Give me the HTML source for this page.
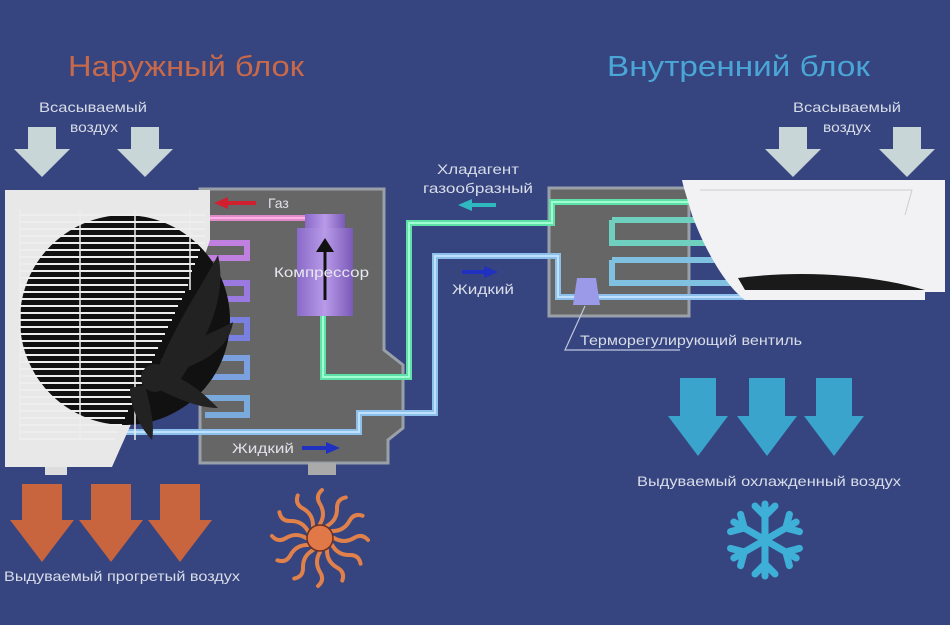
<!DOCTYPE html>
<html><head><meta charset="utf-8"><style>
html,body{margin:0;padding:0;background:#36447f;}
svg{display:block}
text{font-family:"Liberation Sans Narrow","Liberation Sans",sans-serif;}
</style></head><body>
<svg width="950" height="625" viewBox="0 0 950 625" xmlns="http://www.w3.org/2000/svg">
<rect width="950" height="625" fill="#36447f"/>
<text x="68" y="76" font-size="29" fill="#c8694a" textLength="236" lengthAdjust="spacingAndGlyphs">Наружный блок</text>
<text x="607" y="76" font-size="29" fill="#4aa6d6" textLength="263" lengthAdjust="spacingAndGlyphs">Внутренний блок</text>
<g fill="#d8dde8" font-size="14">
<text x="39" y="112" textLength="108" lengthAdjust="spacingAndGlyphs">Всасываемый</text>
<text x="70" y="132" textLength="48" lengthAdjust="spacingAndGlyphs">воздух</text>
<text x="793" y="112" textLength="108" lengthAdjust="spacingAndGlyphs">Всасываемый</text>
<text x="823" y="132" textLength="48" lengthAdjust="spacingAndGlyphs">воздух</text>
<text x="437" y="174" textLength="82" lengthAdjust="spacingAndGlyphs">Хладагент</text>
<text x="423" y="193" textLength="110" lengthAdjust="spacingAndGlyphs">газообразный</text>
<text x="452" y="294" textLength="62" lengthAdjust="spacingAndGlyphs">Жидкий</text>
<text x="580" y="345" textLength="222" lengthAdjust="spacingAndGlyphs">Терморегулирующий вентиль</text>
<text x="637" y="486" textLength="264" lengthAdjust="spacingAndGlyphs">Выдуваемый охлажденный воздух</text>
<text x="4" y="581" textLength="236" lengthAdjust="spacingAndGlyphs">Выдуваемый прогретый воздух</text>
</g>
<g fill="#c9d6d8">
<path d="M28 127h28v22h14l-28 28l-28-28h14z"/>
<path d="M131 127h28v22h14l-28 28l-28-28h14z"/>
<path d="M779 127h28v22h14l-28 28l-28-28h14z"/>
<path d="M893 127h28v22h14l-28 28l-28-28h14z"/>
</g>
<path d="M200 189H384V350L403 365V428L388 440V463H200Z" fill="#666" stroke="#9aa0a8" stroke-width="3"/>
<rect x="308" y="463" width="28" height="12" fill="#aaa"/>
<rect x="45" y="465" width="22" height="10" fill="#ddd"/>
<rect x="549" y="188" width="140" height="128" fill="#666" stroke="#9aa0a8" stroke-width="3"/>
<g fill="none" stroke-width="6" stroke-linejoin="miter">
<path d="M210 218H305" stroke="#e08ac8"/>
<path d="M205 243H247V258H205" stroke="#c080e0"/>
<path d="M205 283H247V299H205" stroke="#9a7ae0"/>
<path d="M205 320H247V338H205" stroke="#7a80e0"/>
<path d="M205 358H247V377H205" stroke="#7aa0e0"/>
<path d="M205 398H247V415H205" stroke="#7aaadc"/>
<path d="M323 310V377H409V223H552V202H700" stroke="#5ee0a8"/>
<path d="M612 220H760M612 220V243H760" stroke="#70d0c0"/>
<path d="M612 260H760M612 260V283H760" stroke="#80c0e0"/>
<path d="M115 432H359V413H435V256H558V297H760" stroke="#8cc0ea"/>
</g>
<g fill="none" stroke-width="2">
<path d="M210 218H305" stroke="#ffb0e8"/>
<path d="M323 310V377H409V223H552V202H700" stroke="#a0ffd0"/>
<path d="M115 432H359V413H435V256H558V297H760" stroke="#c0e0ff"/>
</g>
<defs>
<linearGradient id="cg" x1="0" x2="1"><stop offset="0" stop-color="#8a6ac8"/><stop offset=".5" stop-color="#b89ae8"/><stop offset="1" stop-color="#7a5ab8"/></linearGradient>
</defs>
<rect x="305" y="214" width="40" height="16" fill="url(#cg)"/>
<rect x="297" y="228" width="56" height="88" fill="url(#cg)"/>
<path d="M325 300V248" stroke="#111" stroke-width="3"/>
<path d="M316 252L325 238L334 252Z" fill="#111"/>
<text x="274" y="277" font-size="14" fill="#e8e8f0" textLength="95" lengthAdjust="spacingAndGlyphs">Компрессор</text>
<path d="M226 203H256" stroke="#d02030" stroke-width="4"/><path d="M214 203l14-6v12z" fill="#d02030"/>
<text x="268" y="208" font-size="14" fill="#e0e0e8">Газ</text>
<text x="232" y="453" font-size="14" fill="#e0e0e8" textLength="62" lengthAdjust="spacingAndGlyphs">Жидкий</text>
<path d="M302 448H328" stroke="#2030c0" stroke-width="4"/><path d="M340 448l-14-6v12z" fill="#2030c0"/>
<path d="M470 205H496" stroke="#30b8c0" stroke-width="4"/><path d="M458 205l14-6v12z" fill="#30b8c0"/>
<path d="M462 272H486" stroke="#2030c0" stroke-width="4"/><path d="M498 272l-14-6v12z" fill="#2030c0"/>
<path d="M5 190H210V240C190 300 150 380 112 467H5Z" fill="#e8e8e8"/>
<circle cx="125" cy="320" r="105" fill="#111"/>
<path d="M210 190V240C190 300 150 380 112 467H5V470H250V190Z" fill="none"/>
<g stroke="#eee" stroke-width="2">
<path d="M20 215H205M20 222H205M20 229H205M20 236H205M20 243H205M20 250H200M20 257H198M20 264H195M20 271H192M20 278H190M20 285H188M20 292H185M20 299H182M20 306H178M20 313H175M20 320H172M20 327H168M20 334H165M20 341H162M20 348H158M20 355H155M20 362H152M20 369H148M20 376H145M20 383H142M20 390H138M20 397H135M20 404H132M20 411H128M20 418H125M20 425H122M20 432H118M20 439H115"/>
<path d="M20 210V440M80 210V440M135 210V440M190 210V290" stroke-width="1.5"/>
</g>
<g fill="#222">
<path d="M150 390C170 330 200 290 218 255C226 290 214 330 180 380Z"/>
<path d="M160 360C190 340 220 330 233 322C230 345 210 360 175 372Z"/>
<path d="M160 370C190 380 205 395 218 408C195 408 170 395 150 385Z"/>
<path d="M145 385C150 405 155 425 152 440C138 425 130 405 130 388Z"/>
<circle cx="155" cy="378" r="14"/>
</g>
<path d="M682 180H945V292H925V300H745C725 285 705 250 692 215C688 200 684 190 682 180Z" fill="#f2f2f4"/>
<path d="M738 278C800 270 870 274 925 290H745Z" fill="#1a1a1a"/>
<path d="M700 190H912L905 215" stroke="#ccc" fill="none"/>
<path d="M577 278H596L600 305H573Z" fill="#9a9ae8"/>
<path d="M585 306L565 350H680" stroke="#c0c8e0" stroke-width="1.2" fill="none"/>
<g fill="#3aa4cc">
<path d="M680 378h36v38h12l-30 40l-30-40h12z"/>
<path d="M749 378h36v38h12l-30 40l-30-40h12z"/>
<path d="M816 378h36v38h12l-30 40l-30-40h12z"/>
</g>
<g fill="#c8643e">
<path d="M22 484h40v36h12l-32 42l-32-42h12z"/>
<path d="M91 484h40v36h12l-32 42l-32-42h12z"/>
<path d="M160 484h40v36h12l-32 42l-32-42h12z"/>
</g>
<g transform="translate(320,538)" stroke="#e0804a" stroke-width="4" fill="none" stroke-linecap="round">
<path d="M0-14q6-10 0-20q-5-8 2-14"/>
<path transform="rotate(30)" d="M0-14q6-10 0-20q-5-8 2-14"/>
<path transform="rotate(60)" d="M0-14q6-10 0-20q-5-8 2-14"/>
<path transform="rotate(90)" d="M0-14q6-10 0-20q-5-8 2-14"/>
<path transform="rotate(120)" d="M0-14q6-10 0-20q-5-8 2-14"/>
<path transform="rotate(150)" d="M0-14q6-10 0-20q-5-8 2-14"/>
<path transform="rotate(180)" d="M0-14q6-10 0-20q-5-8 2-14"/>
<path transform="rotate(210)" d="M0-14q6-10 0-20q-5-8 2-14"/>
<path transform="rotate(240)" d="M0-14q6-10 0-20q-5-8 2-14"/>
<path transform="rotate(270)" d="M0-14q6-10 0-20q-5-8 2-14"/>
<path transform="rotate(300)" d="M0-14q6-10 0-20q-5-8 2-14"/>
<path transform="rotate(330)" d="M0-14q6-10 0-20q-5-8 2-14"/>
<circle r="13" fill="#e07848" stroke="#6a3020" stroke-width="1.5"/>
</g>
<g transform="translate(765,540)" stroke="#3eb0d8" stroke-width="7" stroke-linecap="round" fill="none">
<g id="sf"><path d="M0-36V36M0-24l-10-10M0-24l10-10M0 24l-10 10M0 24l10 10"/></g>
<use href="#sf" transform="rotate(60)"/>
<use href="#sf" transform="rotate(120)"/>
</g>
</svg>
</body></html>
